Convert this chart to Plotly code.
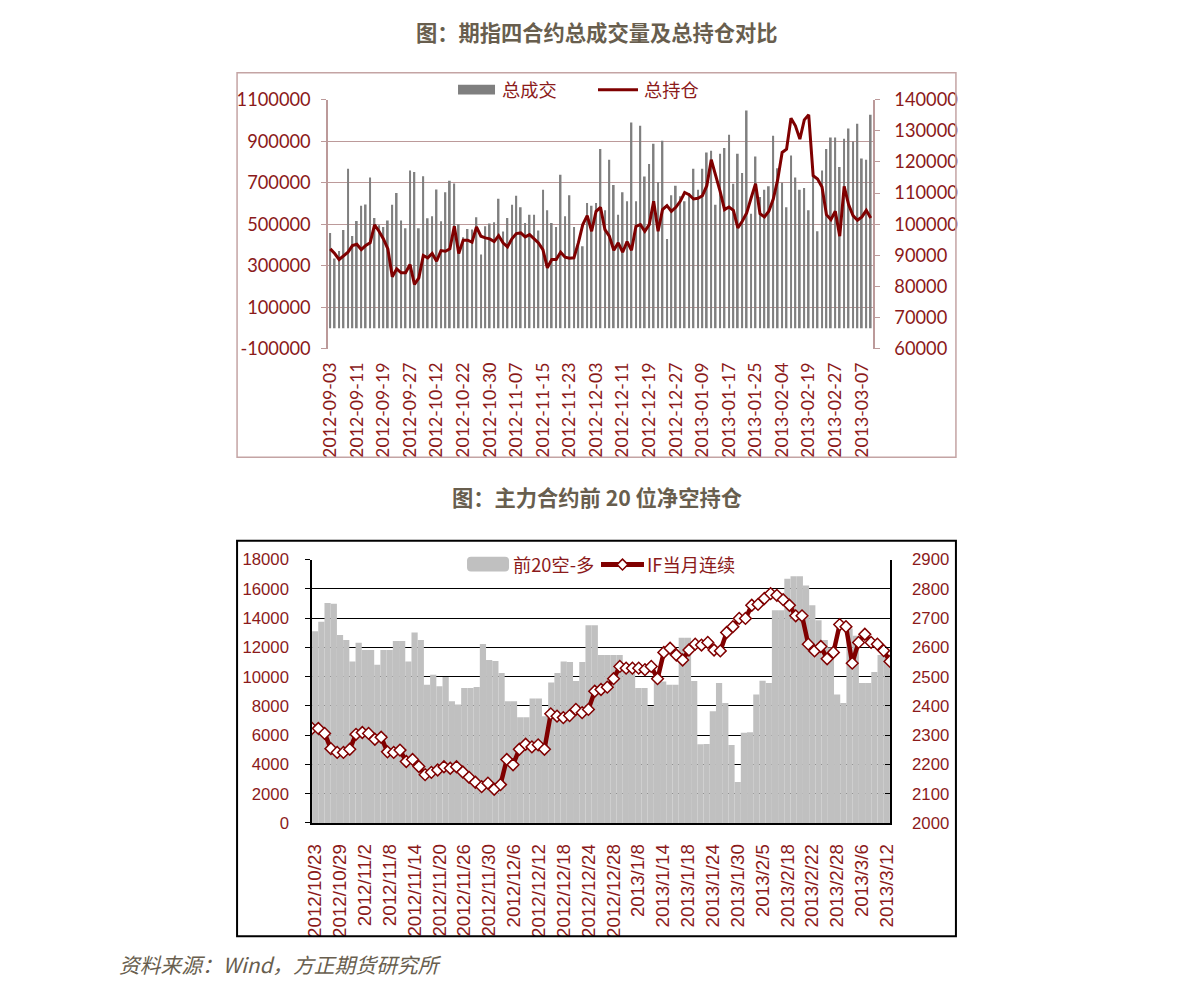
import pandas as pd
import plotly.graph_objects as go

# ---------------- data ----------------
holidays = ['2012-10-01', '2012-10-02', '2012-10-03', '2012-10-04', '2012-10-05',
            '2013-01-01', '2013-01-02', '2013-01-03',
            '2013-02-11', '2013-02-12', '2013-02-13', '2013-02-14', '2013-02-15']
days1 = pd.bdate_range('2012-09-03', '2013-03-11', freq='C', holidays=holidays)
days2 = pd.bdate_range('2012-10-23', '2013-03-12', freq='C', holidays=holidays)
dates1 = [d.strftime('%Y-%m-%d') for d in days1]
dates2 = [f'{d.year}/{d.month}/{d.day}' for d in days2]

total_volume = [
    458400, 335000, 372000, 473000, 767200, 444000, 516000, 589000, 595000, 725600,
    530400, 495000, 487000, 517600, 594400, 651000, 517600, 481000, 759200, 752000,
    481000, 731000, 529000, 538400, 667000, 515000, 654000, 710000, 696000, 500000,
    437600, 477600, 474400, 533600, 354400, 490000, 504000, 509600, 623200, 465600,
    529600, 594400, 637600, 581600, 506400, 546400, 546400, 470000, 666400, 567200,
    506400, 487200, 738400, 538400, 639200, 487200, 402400, 394400, 602400, 589600,
    602400, 861600, 567200, 810400, 688800, 546400, 653600, 610400, 989600, 610400,
    973600, 730400, 789600, 887200, 701600, 901600, 429600, 639200, 685600, 634400,
    610400, 650400, 767200, 666400, 767200, 845600, 853600, 594400, 839200, 866400,
    930400, 695200, 839200, 746400, 1047200, 551200, 826400, 631200, 666400, 682400,
    925600, 770000, 700000, 581600, 831200, 725600, 666400, 674400, 567200, 730400,
    466400, 759200, 861600, 917600, 917600, 775200, 911200, 960800, 898400, 983200,
    816800, 810400, 1026400]

total_oi = [
    92100, 90613, 88693, 89760, 91040, 93173, 93600, 91893, 93173, 94027,
    99787, 97760, 95307, 92107, 83147, 85707, 84427, 84427, 87093, 80693,
    82827, 89973, 89227, 90613, 88160, 91573, 91360, 92107, 99360, 90613,
    94880, 94880, 94240, 99147, 96160, 95627, 95307, 94453, 96373, 94027,
    92747, 95307, 97013, 97227, 95947, 96693, 95307, 94027, 91893, 86027,
    88693, 88693, 91040, 89440, 89120, 89227, 94027, 99893, 102773, 97760,
    104160, 105440, 98293, 96160, 91680, 94027, 91040, 94453, 91680, 99360,
    99893, 97760, 99893, 107360, 97760, 104693, 105973, 104160, 105440, 107360,
    110200, 109493, 108107, 108320, 109173, 112373, 120693, 115680, 110560, 104693,
    105547, 104480, 98827, 100960, 103627, 108427, 113013, 103413, 102347, 104160,
    108107, 114293, 123040, 124107, 134027, 131573, 127307, 133493, 135093, 115573,
    114507, 111947, 103093, 101493, 104160, 96160, 112160, 106293, 102773, 101280,
    102347, 104480, 102027]

net_short = [
    13100, 13750, 15036, 14990, 12843, 12503, 11034, 12323, 11825, 11825,
    10808, 11825, 11825, 12436, 12436, 11034, 13024, 12503, 9451, 10129,
    9338, 9971, 8320, 8094, 9225, 9225, 9293, 12232, 11147, 11079,
    10242, 8318, 8318, 7233, 7233, 8501, 8501, 7300, 9600, 10245,
    11033, 11000, 9700, 11000, 13521, 13521, 11486, 11486, 11486, 11486,
    10468, 10468, 9225, 9225, 7981, 9677, 9677, 9451, 9451, 12662,
    12662, 9700, 5381, 5400, 7642, 9564, 8207, 5336, 2800, 6173,
    6200, 8773, 9722, 9564, 14538, 14538, 16686, 16867, 16867, 16234,
    14877, 13860, 12500, 12000, 8773, 8200, 13295, 12800, 9564, 9564,
    10310, 11486, 11486]

if_close = [
    2323, 2323, 2306, 2254, 2241, 2241, 2252, 2303, 2309, 2306,
    2286, 2293, 2243, 2241, 2249, 2210, 2217, 2193, 2165, 2173,
    2181, 2192, 2187, 2192, 2174, 2156, 2139, 2124, 2136, 2115,
    2131, 2217, 2199, 2252, 2269, 2260, 2267, 2252, 2373, 2365,
    2360, 2367, 2388, 2377, 2388, 2450, 2456, 2464, 2493, 2535,
    2529, 2529, 2529, 2524, 2535, 2493, 2583, 2597, 2574, 2557,
    2591, 2611, 2608, 2617, 2591, 2588, 2651, 2671, 2699, 2699,
    2744, 2747, 2767, 2784, 2778, 2763, 2744, 2708, 2708, 2611,
    2588, 2603, 2561, 2583, 2678, 2671, 2546, 2617, 2645, 2617,
    2611, 2589, 2552]

ticks1 = dates1[::6]
ticks2 = dates2[::4]
vol_ticks = [-100000, 100000, 300000, 500000, 700000, 900000, 1100000]
vol_ticktext = ['-100000', '100000', '300000', '500000', '700000', '900000', '1100000']
series_names = ['总成交', '总持仓', '前20空-多', 'IF当月连续']

# ---------------- styling ----------------
W, H = 1191, 1000
OFF = 8                      # default body margin of the page
KX = (W + 2 * OFF) / W       # the photographed page is shrunk by this much
KY = (H + 2 * OFF) / H
def px(x): return (x * KX - OFF) / W
def py(y): return 1 - (y * KY - OFF) / H
def fs(s): return s * KX     # font size compensated for the shrink

RED = '#8B1A1A'
LINE_RED = '#7F0000'
ROSY = '#BC9A9A'
TITLE = '#685E4E'
NUM1 = 'Lato, Liberation Sans, sans-serif'
NUM2 = 'Liberation Sans, Arial, sans-serif'
CJK = 'Noto Sans CJK SC, sans-serif'

fig = go.Figure()

# chart 1
fig.add_trace(go.Bar(x=dates1, y=total_volume, name=series_names[0], width=0.38,
                     marker=dict(color='#7F7F7F', line=dict(width=0)),
                     xaxis='x', yaxis='y', showlegend=False))
fig.add_trace(go.Scatter(x=dates1, y=total_oi, name=series_names[1], mode='lines',
                         line=dict(color=LINE_RED, width=3),
                         xaxis='x', yaxis='y2', showlegend=False))
# chart 2
fig.add_trace(go.Bar(x=dates2, y=net_short, name=series_names[2], width=1.0,
                     marker=dict(color='#C0C0C0', line=dict(width=0)),
                     xaxis='x2', yaxis='y3', showlegend=False))
fig.add_trace(go.Scatter(x=dates2, y=if_close, name=series_names[3], mode='lines+markers',
                         line=dict(color='#800000', width=4.5),
                         marker=dict(symbol='diamond', size=9, color='white',
                                     line=dict(color='#800000', width=1.5)),
                         xaxis='x4', yaxis='y4', showlegend=False))

d1x = [px(327), px(872)]
d1y = [py(347), py(96)]
d2x = [px(311), px(889)]
d2y = [py(824), py(559)]

fig.update_layout(
    width=W, height=H, margin=dict(l=0, r=0, t=0, b=0),
    paper_bgcolor='white', plot_bgcolor='rgba(0,0,0,0)',
    barmode='overlay', showlegend=False,
    xaxis=dict(domain=d1x, type='category', range=[-0.5, len(dates1) - 0.5],
               tickmode='array', tickvals=ticks1, ticktext=ticks1, tickangle=-90,
               ticks='', showgrid=False, showline=False, zeroline=False,
               ticklabelstandoff=9,
               tickfont=dict(family=NUM1, size=fs(17.5), color=RED), anchor='y'),
    xaxis3=dict(domain=d1x, overlaying='x', type='linear', range=[-0.5, len(dates1) - 0.5],
                anchor='free', position=d1y[0] + (d1y[1] - d1y[0]) * 100000 / 1200000,
                tickmode='linear', tick0=-0.5, dtick=1, ticks='outside', ticklen=5,
                tickcolor=ROSY, showline=True, linecolor=ROSY, linewidth=1,
                showticklabels=False, showgrid=False, zeroline=False),
    yaxis=dict(domain=d1y, range=[-100000, 1100000], tickmode='array',
               tickvals=vol_ticks, ticktext=vol_ticktext,
               showgrid=True, gridcolor=ROSY, gridwidth=1, zeroline=False,
               showline=True, linecolor=ROSY, linewidth=1.5, ticks='outside', ticklen=5,
               tickcolor=ROSY, ticklabelstandoff=7,
               tickfont=dict(family=NUM1, size=fs(18), color=RED), anchor='x'),
    yaxis2=dict(overlaying='y', side='right', range=[60000, 140000], dtick=10000,
                showgrid=False, zeroline=False, showline=True, linecolor=ROSY, linewidth=1.5,
                ticks='outside', ticklen=5, tickcolor=ROSY, tickformat='d',
                ticklabelstandoff=11,
                tickfont=dict(family=NUM1, size=fs(18), color=RED), anchor='x'),
    xaxis2=dict(domain=d2x, type='category', range=[-0.5, len(dates2) - 0.5],
                tickmode='array', tickvals=ticks2, ticktext=ticks2, tickangle=-90,
                ticks='', showgrid=False, showline=True, linecolor='black', linewidth=1.5,
                zeroline=False, ticklabelstandoff=12,
                tickfont=dict(family=NUM2, size=fs(18.5), color=RED), anchor='y3'),
    xaxis5=dict(domain=d2x, overlaying='x2', type='linear', range=[-0.5, len(dates2) - 0.5],
                anchor='y3', tickmode='linear', tick0=-0.5, dtick=0.5, ticks='inside', ticklen=4,
                tickcolor='#333333', showline=False, showticklabels=False, showgrid=False,
                zeroline=False),
    xaxis4=dict(domain=d2x, overlaying='x2', type='category', range=[0, len(dates2) - 1],
                visible=False, anchor='y4'),
    yaxis3=dict(domain=d2y, range=[0, 18000], dtick=2000, showgrid=True,
                gridcolor='black', gridwidth=1, zeroline=False, showline=True,
                linecolor='black', linewidth=1.5, ticks='outside', ticklen=5,
                tickcolor='black', tickformat='d', ticklabelstandoff=13,
                tickfont=dict(family=NUM2, size=fs(16.5), color=RED), anchor='x2'),
    yaxis4=dict(overlaying='y3', side='right', range=[2000, 2900], dtick=100,
                showgrid=False, zeroline=False, showline=True, linecolor='black', linewidth=1.5,
                ticks='inside', ticklen=5, tickcolor='black', ticklabelstandoff=17,
                tickfont=dict(family=NUM2, size=fs(16.5), color=RED), anchor='x4'),
)

def ann(text, x, y, size, color, family=CJK, xanchor='left', yanchor='middle'):
    fig.add_annotation(text=text, x=px(x), y=py(y), xref='paper', yref='paper',
                       xanchor=xanchor, yanchor=yanchor, showarrow=False,
                       font=dict(family=family, size=fs(size), color=color))

def rect(x0, y0, x1, y1, fill=None, line=None, width=0):
    fig.add_shape(type='rect', xref='paper', yref='paper', x0=px(x0), x1=px(x1),
                  y0=py(y1), y1=py(y0), fillcolor=fill,
                  line=dict(color=line or 'rgba(0,0,0,0)', width=width))

def hline(x0, x1, y, color, width):
    fig.add_shape(type='line', xref='paper', yref='paper', x0=px(x0), x1=px(x1),
                  y0=py(y), y1=py(y), line=dict(color=color, width=width))

# titles, source
ann('<b>图：期指四合约总成交量及总持仓对比</b>', 596, 27, 21, TITLE, xanchor='center')
ann('<b>图：主力合约前 20 位净空持仓</b>', 596, 495, 21, TITLE, xanchor='center')
ann('<i>资料来源：Wind，方正期货研究所</i>', 116, 966, 20.5, TITLE)

# frames
rect(236, 69, 955, 456, line='#C4A4A4', width=1.5)
rect(236, 540, 955, 938, line='black', width=2)

# legend of chart 1
rect(457, 81, 494, 91, fill='#7F7F7F')
ann(series_names[0], 499, 85, 18, RED)
hline(597, 637, 86, LINE_RED, 3)
ann(series_names[1], 641, 85, 18, RED)

# legend of chart 2
rect(461, 552, 742, 576, fill='white')
fig.add_shape(type='path', xref='paper', yref='paper',
              path=(f'M {px(466)},{py(560)} Q {px(466)},{py(556)} {px(470)},{py(556)} '
                    f'L {px(504)},{py(556)} Q {px(508)},{py(556)} {px(508)},{py(560)} '
                    f'L {px(508)},{py(567)} Q {px(508)},{py(571)} {px(504)},{py(571)} '
                    f'L {px(470)},{py(571)} Q {px(466)},{py(571)} {px(466)},{py(567)} Z'),
              fillcolor='#C0C0C0', line=dict(width=0))
ann(series_names[2], 510, 563, 18, RED)
hline(600, 643, 564, '#800000', 5)
fig.add_shape(type='path', xref='paper', yref='paper',
              path=(f'M {px(616)},{py(564)} L {px(621.5)},{py(558.5)} '
                    f'L {px(627)},{py(564)} L {px(621.5)},{py(569.5)} Z'),
              fillcolor='white', line=dict(color='#800000', width=1.5))
ann(series_names[3], 644, 563, 18, RED)

fig.write_html('out.html')
